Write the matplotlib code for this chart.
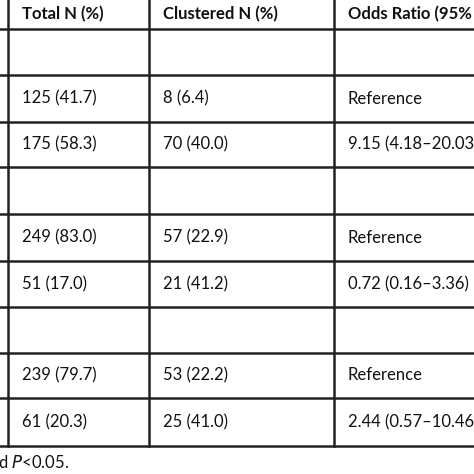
import matplotlib
matplotlib.use("Agg")
import matplotlib.pyplot as plt

header = ["Total N (%)", "Clustered N (%)", "Odds Ratio (95% CI)"]
total_n = ["", "125 (41.7)", "175 (58.3)", "", "249 (83.0)", "51 (17.0)", "", "239 (79.7)", "61 (20.3)"]
clustered_n = ["", "8 (6.4)", "70 (40.0)", "", "57 (22.9)", "21 (41.2)", "", "53 (22.2)", "25 (41.0)"]
odds_ratio = ["", "Reference", "9.15 (4.18–20.03)", "", "Reference", "0.72 (0.16–3.36)", "", "Reference", "2.44 (0.57–10.46)"]
footnote = "d $\\it{P}$<0.05."

hlines = [29, 75, 122, 167, 214, 261, 307, 353, 398, 446]
vlines = [8, 149, 334]
col_x = [22, 163, 348]

fig = plt.figure(figsize=(4.74, 4.74), dpi=100)
ax = fig.add_axes([0, 0, 1, 1])
ax.set_xlim(0, 474)
ax.set_ylim(474, 0)
ax.axis("off")
fam = ["Lato", "DejaVu Sans"]
for y in hlines:
    ax.plot([0, 474], [y, y], color="#222222", lw=1.8)
for x in vlines:
    ax.plot([x, x], [0, hlines[-1]], color="#222222", lw=1.8)
for x, h in zip(col_x, header):
    ax.text(x, 14, h, fontsize=12, fontweight="bold", va="center", ha="left", family=fam, color="#111111")
for i, (a, b, c) in enumerate(zip(total_n, clustered_n, odds_ratio)):
    yc = (hlines[i] + hlines[i + 1]) / 2
    for x, t in zip(col_x, (a, b, c)):
        ax.text(x, yc, t, fontsize=12, va="center", ha="left", family=fam, color="#111111")
ax.text(-2, 462, footnote, fontsize=12, va="center", ha="left", family=fam, color="#111111")
fig.savefig("out.png", dpi=100)
